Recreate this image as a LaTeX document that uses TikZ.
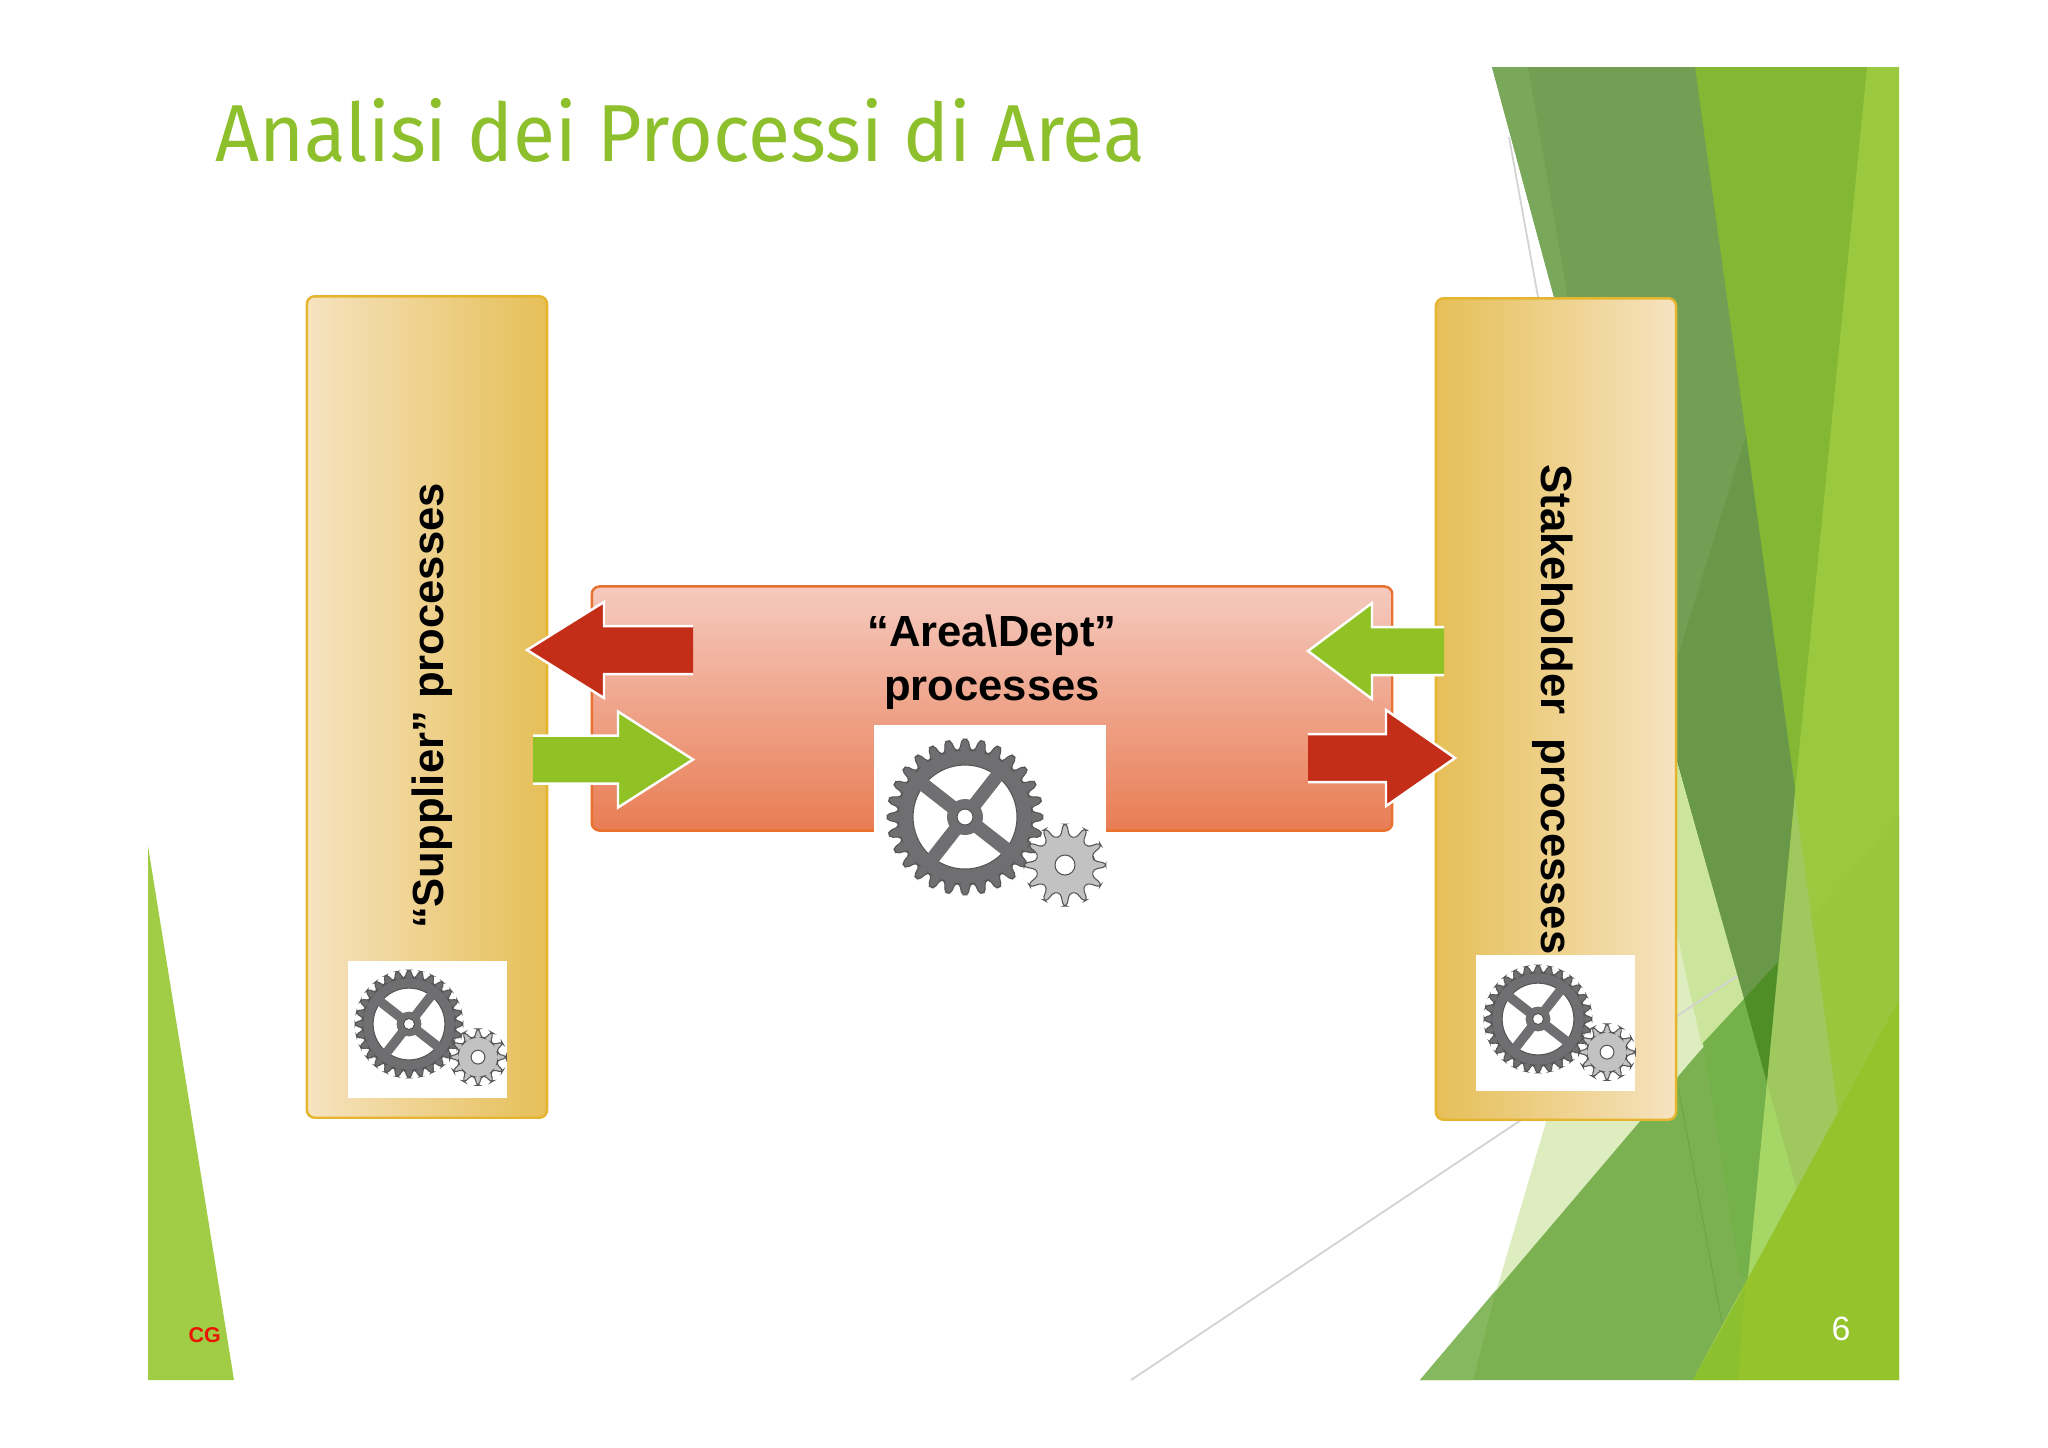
\documentclass[tikz,border=0pt]{standalone}
\usepackage{fontspec}
\setmainfont{Liberation Sans}
\newfontfamily\titlefont[FakeStretch=0.95]{Fira Sans}
\usetikzlibrary{calc}

\definecolor{titlegreen}{HTML}{8DC02C}
\definecolor{arrowred}{HTML}{C42D17}
\definecolor{arrowgreen}{HTML}{90C226}
\definecolor{goldline}{HTML}{E5B52F}
\definecolor{goldlight}{HTML}{F6E3C0}
\definecolor{golddark}{HTML}{E6BF58}
\definecolor{wheeldark}{HTML}{6F6F72}
\definecolor{wheellight}{HTML}{C2C2C2}
\definecolor{wheeledge}{HTML}{555555}

\tikzset{
    procbox/.style={draw=goldline, line width=0.7pt, rounded corners=2.2pt, inner sep=0pt,
        minimum width=2.4cm, minimum height=8.21cm},
    proclabel/.style={font=\fontsize{12.4}{15.2}\selectfont\bfseries, inner sep=0pt},
    thinline/.style={gray!35, line width=0.5pt}
}

% arrow: colour, tail x, head back x, tip x, middle y
\newcommand{\procarrow}[5]{
    \fill[#1] (#2,#5-24) -- (#3,#5-24) -- (#3,#5-48) -- (#4,#5) -- (#3,#5+48) -- (#3,#5+24) -- (#2,#5+24) -- cycle;
    \draw[white, line width=0.7pt] (#2,#5-24) -- (#3,#5-24) -- (#3,#5-48) -- (#4,#5) -- (#3,#5+48) -- (#3,#5+24) -- (#2,#5+24);
}

% gears: x, y of the large wheel, scale
\newcommand{\gearset}[3]{
    \begin{scope}[shift={(#1,#2)}, scale=#3]
        \draw[fill=wheeldark, draw=wheeledge, line width=0.3pt, rounded corners=0.9pt] (-4.6:67)
            \foreach \t in {0,...,27} { -- ({\t*360/28-4.6}:67) -- ({\t*360/28-2.2}:78) -- ({\t*360/28+2.2}:78) -- ({\t*360/28+4.6}:67) } -- cycle;
        \draw[fill=white, draw=wheeledge, line width=0.3pt] (0,0) circle (52);
        \foreach \a in {38,128,218,308} {
            \draw[wheeldark, line width=#3*3.9pt] (0,0) -- (\a:53);
        }
        \fill[wheeldark] (0,0) circle (18);
        \draw[fill=white, draw=wheeledge, line width=0.3pt] (0,0) circle (8);
        \draw[fill=wheellight, draw=wheeledge, line width=0.3pt, rounded corners=0.9pt] (100,48)++(-8.5:29)
            \foreach \t in {0,...,11} { -- ($(100,48)+({\t*30-8.5}:29)$) -- ($(100,48)+({\t*30-2.5}:41)$) -- ($(100,48)+({\t*30+2.5}:41)$) -- ($(100,48)+({\t*30+8.5}:29)$) } -- cycle;
        \draw[fill=white, draw=wheeledge, line width=0.3pt] (100,48) circle (10);
    \end{scope}
}

\begin{document}
\begin{tikzpicture}[x=0.01cm, y=-0.01cm]
    \useasboundingbox (0,0) rectangle (2048,1447);

    % left wedge
    \fill[fill={rgb,255:red,160;green,204;blue,70}] (148,846) -- (234,1380) -- (148,1380) -- cycle;

    % right facets, back to front
    \fill[fill={rgb,255:red,154;green,200;blue,63}] (1800,67) -- (1899,67) -- (1899,1380) -- (1738,1380) -- (1750,900) -- cycle;
    \fill[fill={rgb,255:red,132;green,183;blue,51}] (1680,67) -- (1867,67) -- (1795,790) -- (1780,790) -- cycle;
    \fill[fill={rgb,255:red,114;green,159;blue,83}] (1492,67) -- (1695,67) -- (1795,790) -- (1767,1083) -- cycle;
    \fill[fill={rgb,255:red,121;green,168;blue,91}] (1492,67) -- (1528,67) -- (1575,340) -- (1560,320) -- cycle;
    \fill[fill={rgb,255:red,105;green,153;blue,72}] (1746,435) -- (1795,790) -- (1767,1083) -- (1670,737) -- (1670,682) -- cycle;
    \fill[fill={rgb,255:red,222;green,237;blue,192}] (1470,1380) -- (1660,735) -- (1702,1047) -- (1680,1080) -- cycle;
    \fill[fill={rgb,255:red,203;green,229;blue,156}] (1670,737) -- (1744,999) -- (1702,1047) -- (1677,933) -- cycle;
    \draw[thinline] (1131,1380) -- (1737,976);
    \draw[thinline] (1509,137) -- (1538,297);
    \fill[fill={rgb,255:red,123;green,177;blue,81}] (1420,1380) -- (1744,999) -- (1767,1083) -- (1748,1278) -- (1693,1380) -- cycle;
    \fill[fill={rgb,255:red,116;green,177;blue,74}] (1703,1043) -- (1744,999) -- (1767,1083) -- (1748,1278) -- (1740,1277) -- cycle;
    \fill[fill={rgb,255:red,133;green,184;blue,95}] (1420,1380) -- (1473,1380) -- (1496,1290) -- cycle;
    \draw[draw={rgb,255:red,111;green,165;blue,74}, line width=0.3pt] (1677,1080) -- (1722,1323);
    \fill[fill={rgb,255:red,79;green,142;blue,39}] (1744,999) -- (1778,962) -- (1767,1083) -- cycle;
    \fill[fill={rgb,255:red,152;green,198;blue,60}] (1811,918) -- (1899,815) -- (1899,1000) -- (1838,1112) -- cycle;
    \fill[fill={rgb,255:red,159;green,201;blue,95}] (1795,797) -- (1838,1112) -- (1797,1190) -- (1767,1083) -- cycle;
    \fill[fill={rgb,255:red,165;green,214;blue,102}] (1767,1083) -- (1797,1190) -- (1748,1278) -- cycle;
    \fill[fill={rgb,255:red,148;green,195;blue,44}] (1693,1380) -- (1899,1000) -- (1899,1380) -- cycle;
    \fill[fill={rgb,255:red,141;green,192;blue,46}] (1693,1380) -- (1745,1287) -- (1738,1380) -- cycle;

    \node [text=titlegreen, anchor=base west, inner sep=0pt, font=\titlefont\fontsize{23}{28}\selectfont] (title) at (215,161) {Analisi dei Processi di Area};

    \node [procbox, left color=goldlight, right color=golddark] (supplier) at (427,707) {};
    \node [procbox, left color=golddark, right color=goldlight] (stakeholder) at (1556,709) {};
    \node [draw={rgb,255:red,232;green,113;blue,47}, line width=0.7pt, rounded corners=2.2pt, minimum width=8cm, minimum height=2.44cm, inner sep=0pt,
        top color={rgb,255:red,245;green,202;blue,191}, bottom color={rgb,255:red,233;green,125;blue,84}] (area) at (992,708.5) {};

    \node [proclabel, rotate=90] (supplierlabel) at (432,706) {“Supplier” processes};
    \node [proclabel, rotate=-90, anchor=west] (stakeholderlabel) at (1553,464) {Stakeholder \ processes};
    \node [proclabel, align=center] (arealabel) at (992,662) {“Area\textbackslash Dept”\\processes};

    % white squares behind the gears
    \fill[white] (348,961) rectangle (507,1098);
    \fill[white] (1476,955) rectangle (1635,1091);
    \fill[white] (874,725) rectangle (1106,915);

    \gearset{965}{817}{1}
    \gearset{409}{1024}{0.69}
    \gearset{1538}{1019}{0.69}

    \procarrow{arrowred}{693}{604}{527}{650}
    \procarrow{arrowgreen}{533}{618}{693}{759.5}
    \procarrow{arrowgreen}{1444}{1372}{1308}{651}
    \procarrow{arrowred}{1308}{1386}{1455}{758}

    \node [text={rgb,255:red,235;green,20;blue,0}, font=\bfseries\fontsize{6.1}{8}\selectfont, anchor=base west, inner sep=0pt] (cg) at (188,1342) {CG};
    \node [text=white, font=\fontsize{9.6}{11}\selectfont, anchor=base, inner sep=0pt] (pagenum) at (1841,1340) {6};
\end{tikzpicture}
\end{document}
